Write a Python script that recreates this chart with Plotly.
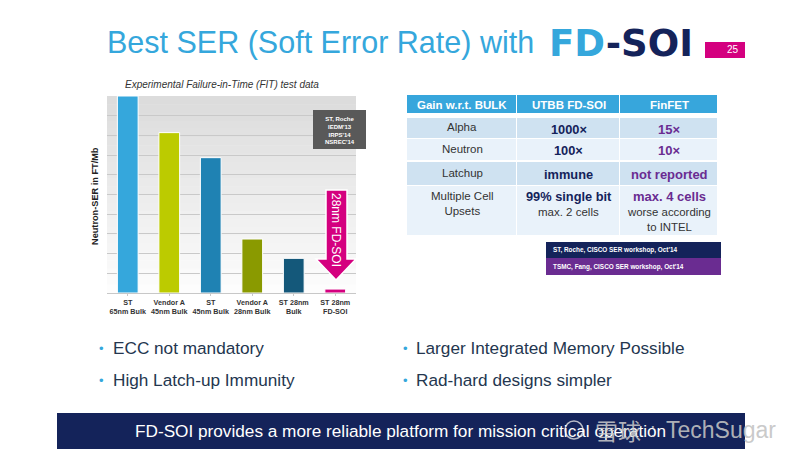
import plotly.graph_objects as go

W, H = 800, 454
FONT = "Liberation Sans"

# bar chart data
categories = ["ST<br>65nm Bulk", "Vendor A<br>45nm Bulk", "ST<br>45nm Bulk",
              "Vendor A<br>28nm Bulk", "ST 28nm<br>Bulk", "ST 28nm<br>FD-SOI"]
ser_values = [10.0, 8.14, 6.87, 2.74, 1.76, 0.2]
bar_colors = ["#35a7dc", "#bccb00", "#1f82b3", "#8a9a00", "#14587a", "#d4007f"]

# table data
header_row = ["Gain w.r.t. BULK", "UTBB FD-SOI", "FinFET"]
col_gain = ["Alpha", "Neutron", "Latchup", "Multiple Cell<br>Upsets"]
col_fdsoi = ["1000×", "100×", "immune", "99% single bit"]
col_finfet = ["15×", "10×", "not reported", "max. 4 cells"]
note_fdsoi = "max. 2 cells"
note_finfet = "worse according<br>to INTEL"

bullets_left = ["ECC not mandatory", "High Latch-up Immunity"]
bullets_right = ["Larger Integrated Memory Possible", "Rad-hard designs simpler"]
refs_gray = "ST, Roche<br>IEDM'13<br>IRPS'14<br>NSREC'14"

# table geometry in page pixels
COL_EDGES = [407, 517, 620, 718]
HEADER_EDGES = (95, 113)
ROW_EDGES = [(118, 138), (139, 160), (162, 185), (186, 235)]
ROW_FILLS = ["#cfe2f1", "#e9f2fa", "#cfe2f1", "#e9f2fa"]


def px(x):
    return x / W


def py(y):
    return 1 - y / H


def rect(x0, y0, x1, y1, color):
    return dict(type="rect", xref="paper", yref="paper", x0=px(x0), x1=px(x1), y0=py(y0), y1=py(y1),
                fillcolor=color, line=dict(width=0))


def label(x, y, text, size, color="#333333", xanchor="left", family=FONT, **kw):
    return dict(xref="paper", yref="paper", x=px(x), y=py(y), text=text, showarrow=False,
                xanchor=xanchor, yanchor="middle", borderpad=0, borderwidth=0,
                font=dict(family=family, size=size, color=color), **kw)


fig = go.Figure()

fig.add_trace(go.Bar(x=categories, y=ser_values, width=0.5, marker_color=bar_colors,
                     marker_line=dict(color="white", width=1), hoverinfo="skip"))

# grey panel behind the bars, fading to white at the bottom
shapes = []
bands = 24
for i in range(bands):
    v = 220 + int(33 * i / (bands - 1))
    y0 = 96 + 197 * i / bands
    shapes.append(dict(type="rect", layer="below", xref="paper", yref="paper",
                       x0=px(107), x1=px(356), y0=py(y0), y1=py(y0 + 197 / bands + 0.5),
                       fillcolor=f"rgb({v},{v},{v})", line=dict(width=0)))

# reference box, arrow, page tag, legends, bottom band
shapes += [
    rect(313, 110, 366, 149, "#595959"),
    dict(type="path", xref="paper", yref="paper", fillcolor="#d4007f",
         line=dict(color="white", width=1.5),
         path=f"M {px(326)} {py(190)} L {px(347)} {py(190)} L {px(347)} {py(259)} L {px(356)} {py(259)} "
              f"L {px(336)} {py(280)} L {px(316)} {py(259)} L {px(326)} {py(259)} Z"),
    rect(705, 42, 745, 58, "#d4007f"),
    rect(546, 242, 721, 258, "#14235a"),
    rect(546, 258, 721, 275, "#6a2c91"),
    rect(57, 413, 745, 449, "#14235a"),
    dict(type="circle", xref="paper", yref="paper", x0=px(565), x1=px(583), y0=py(439), y1=py(421),
         line=dict(color="rgba(225,225,225,0.8)", width=1.5)),
]

annotations = [
    label(107, 43, "Best SER (Soft Error Rate) with", 30.5, "#35a7dc"),
    label(549, 44, "<b><span style='color:#35a7dc'>FD</span>-SOI</b>", 37, "#14235a", family="DejaVu Sans"),
    label(739, 50, "25", 10, "white", xanchor="right"),
    label(125, 84, "<i>Experimental Failure-in-Time (FIT) test data</i>", 10),
    label(95, 196, "<b>Neutron-SER in FT/Mb</b>", 9.2, "#222222", xanchor="center", textangle=-90),
    label(339.5, 130, f"<b>{refs_gray}</b>", 6, "white", xanchor="center"),
    label(336, 230, "28nm FD-SOI", 12, "white", xanchor="center", textangle=90),
    label(553, 250, "<b>ST, Roche, CISCO SER workshop, Oct'14</b>", 6.4, "white"),
    label(553, 267, "<b>TSMC, Fang, CISCO SER workshop, Oct'14</b>", 6.4, "white"),
    label(135, 431, "FD-SOI provides a more reliable platform for mission critical operation", 17.2, "white"),
    # watermark sits on top of the band text, same as the source image
    label(595, 430, "雪球", 23, "rgba(205,205,205,0.85)", family="Noto Sans CJK SC"),
    label(650, 430, ":", 20, "rgba(205,205,205,0.85)"),
    label(666, 430, "TechSugar", 23, "rgba(195,195,195,0.9)"),
]

# table cells
centers = [(a + b) / 2 for a, b in zip(COL_EDGES, COL_EDGES[1:])]
for i, text in enumerate(header_row):
    shapes.append(rect(COL_EDGES[i], HEADER_EDGES[0], COL_EDGES[i + 1] - 1, HEADER_EDGES[1], "#37a6dc"))
    annotations.append(label(centers[i], 105, f"<b>{text}</b>", 11.5, "white", xanchor="center"))
for r, (top, bottom) in enumerate(ROW_EDGES):
    for c in range(3):
        shapes.append(rect(COL_EDGES[c], top, COL_EDGES[c + 1] - 1, bottom, ROW_FILLS[r]))
    last = r == len(ROW_EDGES) - 1
    annotations += [
        label(centers[0], 203 if last else (top + bottom) / 2 - 1, col_gain[r], 11.5, xanchor="center"),
        label(centers[1], 197 if last else (top + bottom) / 2 + 1, f"<b>{col_fdsoi[r]}</b>", 12.8, "#14235a", xanchor="center"),
        label(centers[2], 197 if last else (top + bottom) / 2 + 1, f"<b>{col_finfet[r]}</b>", 13, "#6a2c91", xanchor="center"),
    ]
annotations += [
    label(centers[1], 212, note_fdsoi, 11.5, xanchor="center"),
    label(centers[2], 219, note_finfet, 11.4, xanchor="center"),
]

for y, left, right in zip([348, 380], bullets_left, bullets_right):
    annotations += [
        label(99, y, "•", 13, "#35a7dc"),
        label(113, y, left, 17.2, "#24364f"),
        label(403, y, "•", 13, "#35a7dc"),
        label(416, y, right, 17.2, "#24364f"),
    ]

fig.update_layout(
    width=W, height=H, autosize=False, margin=dict(l=0, r=0, t=0, b=0),
    paper_bgcolor="white", plot_bgcolor="rgba(0,0,0,0)", showlegend=False,
    font=dict(family=FONT),
    xaxis=dict(domain=[px(107), px(356)], anchor="y", showgrid=False, ticks="outside", ticklen=2, tickcolor="#c8c8c8",
               showline=True, linecolor="#c8c8c8", tickangle=0,
               tickfont=dict(family=FONT, size=7.2, color="#333333", weight="bold")),
    yaxis=dict(domain=[py(293), py(96)], anchor="x", range=[0, 10], dtick=1, showticklabels=False,
               showgrid=True, gridcolor="#c9c9c9", gridwidth=1, zeroline=False),
    shapes=shapes, annotations=annotations,
)

fig.write_html("out.html", config={"displayModeBar": False}, post_script="document.body.style.margin='0';")
